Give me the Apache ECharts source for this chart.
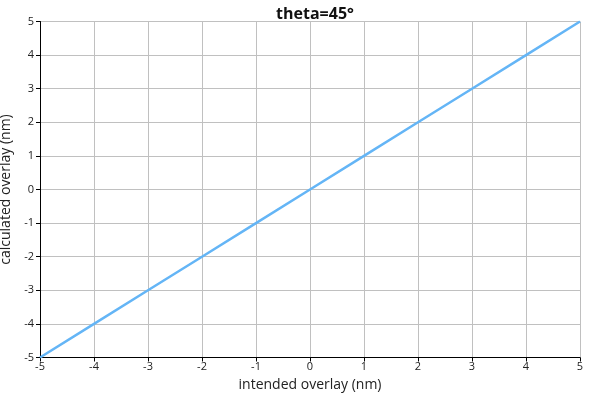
<!DOCTYPE html>
<html><head><meta charset="utf-8">
<script src="https://cdn.jsdelivr.net/npm/echarts@6/dist/echarts.min.js"></script>
<style>html,body{margin:0;padding:0;background:#fff}#c{width:600px;height:400px}</style>
</head><body><div id="c"></div>
<script>
const intended = [-5, -4, -3, -2, -1, 0, 1, 2, 3, 4, 5];
const calculated = [-5, -4, -3, -2, -1, 0, 1, 2, 3, 4, 5];
const titleText = 'theta=45°';
const xName = 'intended overlay (nm)';
const yName = 'calculated overlay (nm)';

const chart = echarts.init(document.getElementById('c'), null, {renderer: 'canvas'});
const font = 'Open Sans';
chart.setOption({
  animation: false,
  title: {text: titleText, left: 310, textAlign: 'center', top: 1,
    textStyle: {fontFamily: font, fontWeight: 'bold', fontSize: 16, color: '#111'}},
  grid: {left: 40, right: 20, top: 21.5, bottom: 42.5, containLabel: false, outerBoundsMode: 'none'},
  xAxis: {type: 'value', min: -5, max: 5, interval: 1,
    name: xName, nameLocation: 'middle', nameGap: 21,
    nameTextStyle: {fontFamily: font, fontSize: 14, color: '#222'},
    axisLine: {show: true, onZero: false, lineStyle: {color: '#000', width: 1}},
    axisTick: {show: true, length: 4, lineStyle: {color: '#000'}},
    axisLabel: {fontFamily: font, fontSize: 11, color: '#222', margin: 4},
    splitLine: {show: true, lineStyle: {color: '#c0c0c0', width: 1}}},
  yAxis: {type: 'value', min: -5, max: 5, interval: 1,
    name: yName, nameLocation: 'middle', nameGap: 22,
    nameTextStyle: {fontFamily: font, fontSize: 14, color: '#222'},
    axisLine: {show: true, onZero: false, lineStyle: {color: '#000', width: 1}},
    axisTick: {show: true, length: 4, lineStyle: {color: '#000'}},
    axisLabel: {fontFamily: font, fontSize: 11, color: '#222', margin: 6},
    splitLine: {show: true, lineStyle: {color: '#c0c0c0', width: 1}}},
  series: [{type: 'line', data: intended.map((x, i) => [x, calculated[i]]),
    showSymbol: false, lineStyle: {color: '#64b5f6', width: 2.5}}]
});
</script></body></html>
